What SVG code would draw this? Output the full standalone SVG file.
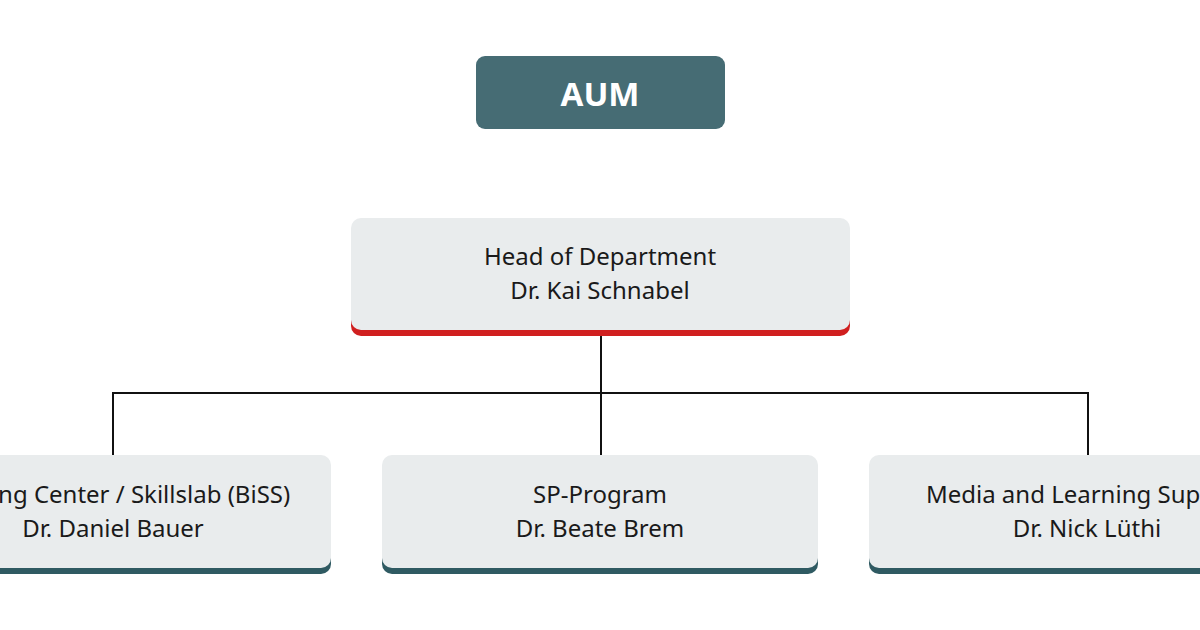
<svg xmlns="http://www.w3.org/2000/svg" width="1200" height="630" viewBox="0 0 1200 630">
<style>
.t{font-family:"Noto Sans","Liberation Sans",sans-serif;font-size:24px;fill:#1a1a1a;text-anchor:middle}
.box{fill:#e9eced}
.c{stroke:#111;stroke-width:2;fill:none}
</style>
<rect width="1200" height="630" fill="#fff"/>
<g id="aum"><rect x="476" y="56" width="249" height="73" rx="9" fill="#466c74"/>
<text x="600" y="106" font-family="'Noto Sans','Liberation Sans',sans-serif" font-size="33" font-weight="bold" fill="#fff" text-anchor="middle">AUM</text></g>
<g id="connectors">
<path class="c" d="M601 330V455M113 456V393H1088V456"/>
</g>
<g id="head"><rect x="351" y="224" width="499" height="112" rx="10" fill="#d01f1f"/>
<rect class="box" x="351" y="218" width="499" height="112" rx="10"/>
<text class="t" x="600" y="265">Head of Department</text>
<text class="t" x="600" y="299">Dr. Kai Schnabel</text></g>
<g id="biss"><rect x="-105" y="461" width="436" height="113" rx="10" fill="#2f5a62"/>
<rect class="box" x="-105" y="455" width="436" height="113" rx="10"/>
<text class="t" x="113" y="503">Training Center / Skillslab (BiSS)</text>
<text class="t" x="113" y="537">Dr. Daniel Bauer</text></g>
<g id="sp"><rect x="382" y="461" width="436" height="113" rx="10" fill="#2f5a62"/>
<rect class="box" x="382" y="455" width="436" height="113" rx="10"/>
<text class="t" x="600" y="503">SP-Program</text>
<text class="t" x="600" y="537">Dr. Beate Brem</text></g>
<g id="media"><rect x="869" y="461" width="436" height="113" rx="10" fill="#2f5a62"/>
<rect class="box" x="869" y="455" width="436" height="113" rx="10"/>
<text class="t" x="1087" y="503">Media and Learning Support</text>
<text class="t" x="1087" y="537">Dr. Nick Lüthi</text></g>
</svg>
